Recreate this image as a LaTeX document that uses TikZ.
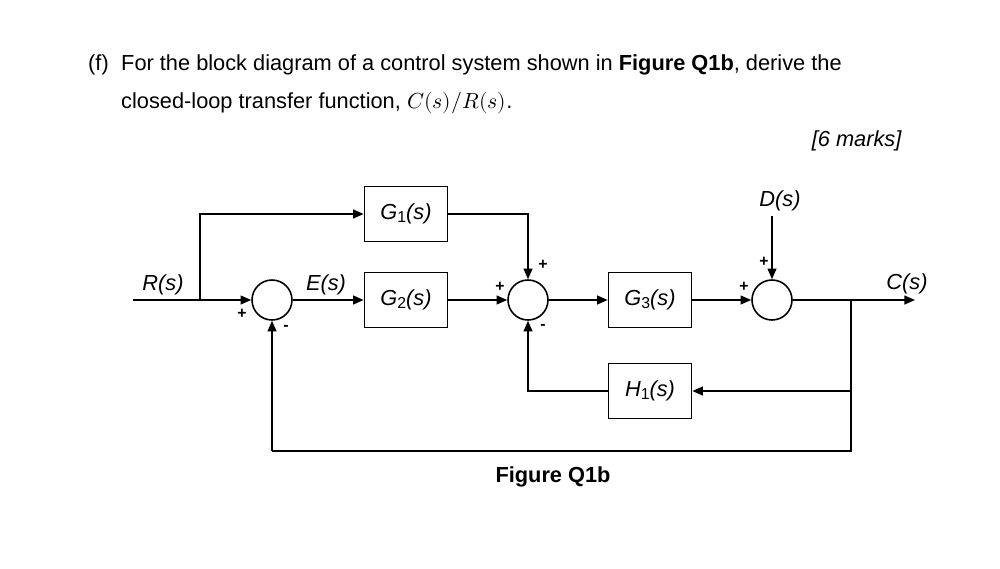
\documentclass[tikz,border=0pt]{standalone}
\usepackage{fontspec}
\setmainfont{Liberation Sans}
\usepackage{unicode-math}
\setmathfont{Latin Modern Math}
\usetikzlibrary{arrows.meta}
\newcommand{\sbs}[1]{\raisebox{-0.25ex}{\fontsize{9}{10}\selectfont #1}}
\begin{document}
\begin{tikzpicture}[x=0.02cm,y=-0.02cm,font=\fontsize{12.4}{14}\selectfont,
  blk/.style={draw,line width=0.9pt,minimum width=83*0.02cm,minimum height=55*0.02cm,inner sep=0},
  sum/.style={draw,circle,line width=0.9pt,minimum size=40*0.02cm,inner sep=0},
  ln/.style={line width=0.9pt},
  ar/.style={line width=0.9pt,-{Triangle[length=6pt,width=5pt]}},
  sg/.style={font=\fontsize{9}{10}\selectfont\bfseries,inner sep=0}]
\useasboundingbox (0,0) rectangle (1000,568);
\node[anchor=west] (f) at (82,65) {(f)};
\node[anchor=west] (t1) at (115,65) {For the block diagram of a control system shown in \textbf{Figure Q1b}, derive the};
\node[anchor=west] (t2) at (115,103) {closed-loop transfer function, $C(s)/R(s)$.};
\node[anchor=east] (mk) at (908,141) {\textit{[6 marks]}};
\node[blk] (g1) at (406,214) {\textit{G}\sbs{1}\textit{(s)}};
\node[blk] (g2) at (406,300) {\textit{G}\sbs{2}\textit{(s)}};
\node[blk] (g3) at (650,300) {\textit{G}\sbs{3}\textit{(s)}};
\node[blk] (h1) at (650,391) {\textit{H}\sbs{1}\textit{(s)}};
\node[sum] (s1) at (272,300) {};
\node[sum] (s2) at (528,300) {};
\node[sum] (s3) at (772,300) {};
\coordinate (rin) at (133,300);
\coordinate (br) at (200,300);
\coordinate (br2) at (200,214);
\coordinate (g1c) at (528,214);
\coordinate (dtop) at (772,216);
\coordinate (po) at (851,300);
\coordinate (out) at (915,300);
\coordinate (phb) at (851,391);
\coordinate (pb) at (851,451);
\coordinate (s1b) at (272,451);
\coordinate (h1l) at (528,391);
\node (R) at (163,285) {\textit{R(s)}};
\node (E) at (326,285) {\textit{E(s)}};
\node (C) at (907,284) {\textit{C(s)}};
\node (D) at (780,201) {\textit{D(s)}};
\node[font=\fontsize{12.4}{14}\selectfont\bfseries] (fig) at (553,477) {Figure Q1b};
\draw[ar] (rin) -- (s1);
\draw[ar] (br) -- (br2) -- (g1);
\draw[ar] (s1) -- (g2);
\draw[ar] (g2) -- (s2);
\draw[ar] (g1) -- (g1c) -- (s2);
\draw[ar] (s2) -- (g3);
\draw[ar] (g3) -- (s3);
\draw[ar] (dtop) -- (s3);
\draw[ar] (s3) -- (out);
\draw[ln] (po) -- (pb) -- (s1b);
\draw[ar] (s1b) -- (s1);
\draw[ar] (phb) -- (h1);
\draw[ar] (h1) -- (h1l) -- (s2);
\node[sg] (p1) at (242,314) {+};
\node[sg] (m1) at (286,328) {-};
\node[sg] (p2) at (500,287) {+};
\node[sg] (p3) at (543,265) {+};
\node[sg] (m2) at (543,327) {-};
\node[sg] (p4) at (744,287) {+};
\node[sg] (p5) at (764,262) {+};
\end{tikzpicture}
\end{document}
